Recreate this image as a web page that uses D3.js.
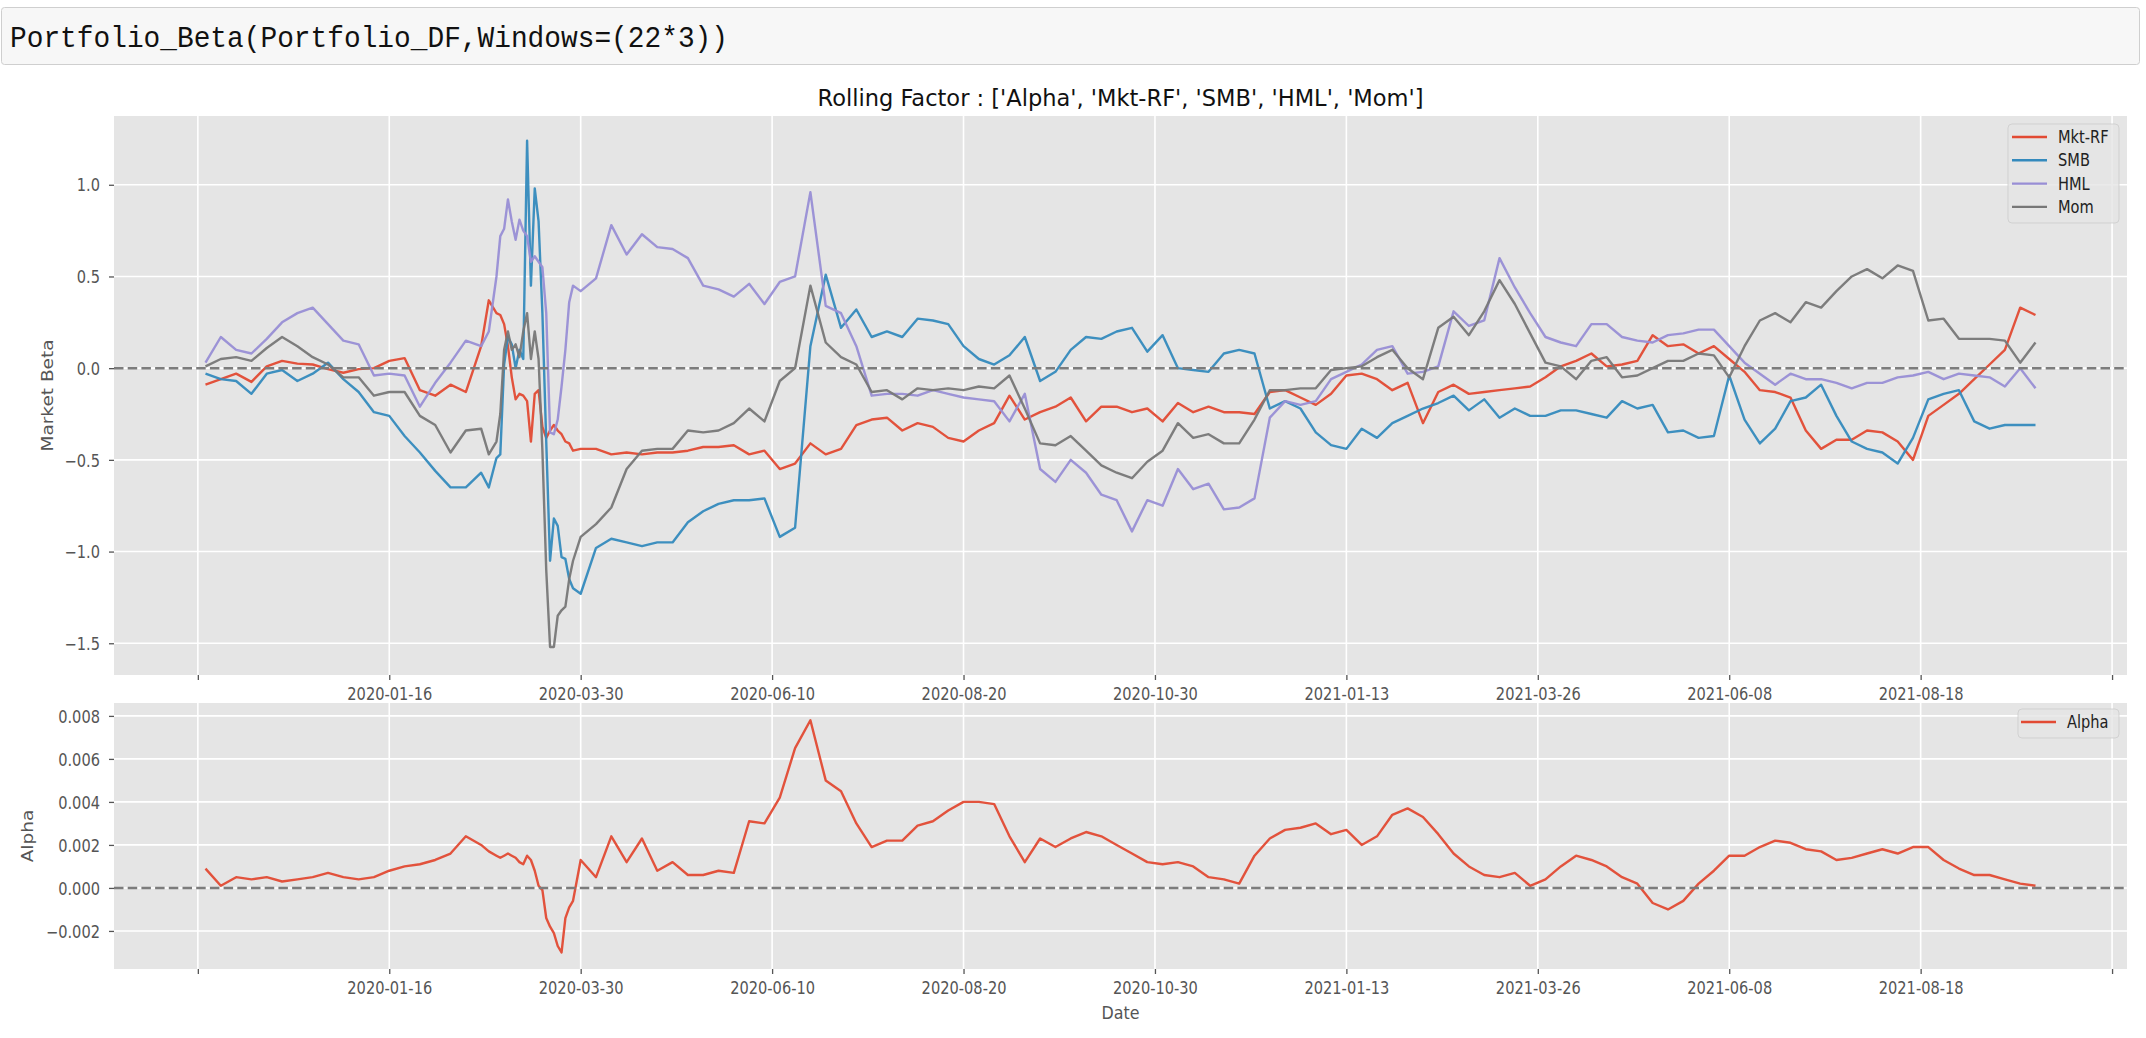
<!DOCTYPE html>
<html><head><meta charset="utf-8">
<script src="https://cdn.jsdelivr.net/npm/d3@7"></script>
<style>
html,body{margin:0;padding:0;background:#fff;}
svg{display:block;}
</style></head><body>
<svg id="chart" width="2146" height="1038"></svg>
<script>
// ---- data (x = trading-day index) ----
const dayIndex = [2,6,10,14,18,22,26,30,34,38,42,46,50,54,58,62,66,70,74,76,
  78,79,80,81,82,83,84,85,86,87,88,89,90,91,92,93,94,95,96,97,98,
  100,104,108,112,116,120,124,128,132,136,140,144,148,152,156,160,164,
  168,172,176,180,184,188,192,196,200,204,208,212,216,220,224,228,232,236,240,244,248,252,256,260,264,268,272,276,280,284,288,292,296,300,304,308,312,316,320,324,
  328,332,336,340,344,348,352,356,360,364,368,372,376,380,384,388,392,396,400,404,408,412,416,420,424,428,432,436,440,444,448,452,456,460,464,468,472,476,480];

const mktRF = [-0.09,-0.06,-0.03,-0.075,0.01,0.04,0.025,0.02,-0.005,-0.025,-0.005,0.0,0.04,0.055,-0.12,-0.15,-0.09,-0.13,0.12,0.37,
  0.30,0.29,0.24,0.12,-0.05,-0.17,-0.14,-0.15,-0.18,-0.40,-0.14,-0.12,-0.32,-0.38,-0.34,-0.31,-0.34,-0.36,-0.40,-0.41,-0.45,
  -0.44,-0.44,-0.47,-0.46,-0.47,-0.46,-0.46,-0.45,-0.43,-0.43,-0.42,-0.47,-0.45,-0.55,-0.52,-0.41,-0.47,
  -0.44,-0.31,-0.28,-0.27,-0.34,-0.30,-0.32,-0.38,-0.40,-0.34,-0.30,-0.15,-0.28,-0.24,-0.21,-0.16,-0.29,-0.21,-0.21,-0.24,-0.22,-0.29,-0.19,-0.24,-0.21,-0.24,-0.24,-0.25,-0.13,-0.12,-0.16,-0.20,-0.14,-0.04,-0.03,-0.06,-0.12,-0.08,-0.30,-0.13,
  -0.09,-0.14,-0.13,-0.12,-0.11,-0.10,-0.05,0.01,0.04,0.08,0.01,0.02,0.04,0.18,0.12,0.13,0.08,0.12,0.05,-0.02,-0.12,-0.13,-0.16,-0.34,-0.44,-0.39,-0.39,-0.34,-0.35,-0.40,-0.50,-0.26,-0.20,-0.14,-0.06,0.02,0.10,0.33,0.29];

const smb = [-0.03,-0.06,-0.07,-0.14,-0.03,-0.01,-0.07,-0.03,0.03,-0.06,-0.13,-0.24,-0.26,-0.37,-0.46,-0.56,-0.65,-0.65,-0.57,-0.65,
  -0.49,-0.47,0.02,0.17,0.13,0.0,0.10,0.05,1.24,0.45,0.98,0.80,0.30,-0.40,-1.05,-0.82,-0.86,-1.03,-1.04,-1.15,-1.20,
  -1.23,-0.98,-0.93,-0.95,-0.97,-0.95,-0.95,-0.84,-0.78,-0.74,-0.72,-0.72,-0.71,-0.92,-0.87,0.12,0.51,
  0.22,0.32,0.17,0.20,0.17,0.27,0.26,0.24,0.12,0.05,0.02,0.07,0.17,-0.07,-0.02,0.10,0.17,0.16,0.20,0.22,0.09,0.18,0.0,-0.01,-0.02,0.08,0.10,0.08,-0.22,-0.18,-0.22,-0.35,-0.42,-0.44,-0.33,-0.38,-0.30,-0.26,-0.22,-0.19,
  -0.15,-0.23,-0.17,-0.27,-0.22,-0.26,-0.26,-0.23,-0.23,-0.25,-0.27,-0.18,-0.22,-0.20,-0.35,-0.34,-0.38,-0.37,-0.04,-0.28,-0.41,-0.33,-0.18,-0.16,-0.09,-0.26,-0.40,-0.44,-0.46,-0.52,-0.38,-0.17,-0.14,-0.12,-0.29,-0.33,-0.31,-0.31,-0.31];

const hml = [0.03,0.17,0.10,0.08,0.16,0.25,0.30,0.33,0.24,0.15,0.13,-0.04,-0.03,-0.04,-0.21,-0.08,0.03,0.15,0.12,0.20,
  0.50,0.72,0.76,0.92,0.80,0.70,0.81,0.75,0.72,0.58,0.61,0.58,0.55,0.30,-0.35,-0.36,-0.28,-0.10,0.10,0.36,0.45,
  0.42,0.49,0.78,0.62,0.73,0.66,0.65,0.60,0.45,0.43,0.39,0.46,0.35,0.47,0.50,0.96,0.34,
  0.30,0.12,-0.15,-0.14,-0.14,-0.15,-0.12,-0.14,-0.16,-0.17,-0.18,-0.29,-0.14,-0.55,-0.62,-0.50,-0.57,-0.69,-0.72,-0.89,-0.72,-0.75,-0.55,-0.66,-0.63,-0.77,-0.76,-0.71,-0.27,-0.18,-0.20,-0.18,-0.06,-0.02,0.02,0.10,0.12,-0.03,-0.02,0.01,
  0.31,0.23,0.26,0.60,0.44,0.30,0.17,0.14,0.12,0.24,0.24,0.17,0.15,0.14,0.18,0.19,0.21,0.21,0.12,0.03,-0.03,-0.09,-0.03,-0.06,-0.06,-0.08,-0.11,-0.08,-0.08,-0.05,-0.04,-0.02,-0.06,-0.03,-0.04,-0.05,-0.10,0.0,-0.11];

const mom = [0.01,0.05,0.06,0.04,0.11,0.17,0.12,0.06,0.02,-0.05,-0.05,-0.15,-0.13,-0.13,-0.26,-0.31,-0.46,-0.34,-0.33,-0.47,
  -0.40,-0.25,0.10,0.20,0.10,0.13,0.06,0.20,0.30,0.05,0.20,0.05,-0.45,-1.10,-1.52,-1.52,-1.35,-1.32,-1.30,-1.15,-1.05,
  -0.92,-0.85,-0.76,-0.55,-0.45,-0.44,-0.44,-0.34,-0.35,-0.34,-0.30,-0.22,-0.29,-0.07,0.0,0.45,0.14,
  0.06,0.02,-0.13,-0.12,-0.17,-0.11,-0.12,-0.11,-0.12,-0.10,-0.11,-0.04,-0.22,-0.41,-0.42,-0.37,-0.45,-0.53,-0.57,-0.60,-0.51,-0.45,-0.30,-0.38,-0.36,-0.41,-0.41,-0.28,-0.12,-0.12,-0.11,-0.11,-0.01,0.0,0.01,0.06,0.10,0.0,-0.06,0.22,
  0.28,0.18,0.31,0.48,0.35,0.19,0.03,0.01,-0.06,0.04,0.06,-0.05,-0.04,0.0,0.04,0.04,0.08,0.07,-0.05,0.12,0.26,0.30,0.25,0.36,0.33,0.42,0.50,0.54,0.49,0.56,0.53,0.26,0.27,0.16,0.16,0.16,0.15,0.03,0.14];

const alpha = [0.0009,0.0001,0.0005,0.0004,0.0005,0.0003,0.0004,0.0005,0.0007,0.0005,0.0004,0.0005,0.0008,0.0010,0.0011,0.0013,0.0016,0.0024,0.0020,0.0017,
  0.0015,0.0014,0.0015,0.0016,0.0015,0.0014,0.0012,0.0011,0.0015,0.0013,0.0008,0.0001,-0.0001,-0.0014,-0.0018,-0.0021,-0.0027,-0.0030,-0.0014,-0.0009,-0.0006,
  0.0013,0.0005,0.0024,0.0012,0.0023,0.0008,0.0012,0.0006,0.0006,0.0008,0.0007,0.0031,0.0030,0.0042,0.0065,0.0078,0.0050,
  0.0045,0.0030,0.0019,0.0022,0.0022,0.0029,0.0031,0.0036,0.0040,0.0040,0.0039,0.0024,0.0012,0.0023,0.0019,0.0023,0.0026,0.0024,0.0020,0.0016,0.0012,0.0011,0.0012,0.0010,0.0005,0.0004,0.0002,0.0015,0.0023,0.0027,0.0028,0.0030,0.0025,0.0027,0.0020,0.0024,0.0034,0.0037,0.0033,0.0025,
  0.0016,0.0010,0.0006,0.0005,0.0007,0.0001,0.0004,0.0010,0.0015,0.0013,0.0010,0.0005,0.0002,-0.0007,-0.0010,-0.0006,0.0002,0.0008,0.0015,0.0015,0.0019,0.0022,0.0021,0.0018,0.0017,0.0013,0.0014,0.0016,0.0018,0.0016,0.0019,0.0019,0.0013,0.0009,0.0006,0.0006,0.0004,0.0002,0.0001];

const seriesNames = ["Mkt-RF","SMB","HML","Mom"];
const xTickPositions = [0,50,100,150,200,250,300,350,400,450,500];
const xTickLabels = ["","2020-01-16","2020-03-30","2020-06-10","2020-08-20","2020-10-30","2021-01-13","2021-03-26","2021-06-08","2021-08-18",""];
const betaTicks = [-1.5,-1.0,-0.5,0.0,0.5,1.0];
const alphaTicks = [-0.002,0.0,0.002,0.004,0.006,0.008];
const titleText = "Rolling Factor : ['Alpha', 'Mkt-RF', 'SMB', 'HML', 'Mom']";
const codeText = "Portfolio_Beta(Portfolio_DF,Windows=(22*3))";

// ---- layout / style ----
const colors = ["#E24A33","#348ABD","#988ED5","#777777"];
const SX = 0.86;            // horizontal text squeeze seen in the picture
const FONT = "'DejaVu Sans', 'Liberation Sans', sans-serif";
const TICKFS = 17;
const svg = d3.select("#chart");

const left = 114, right = 2127;
const top1 = 116, bot1 = 675, top2 = 703, bot2 = 969;

// code cell
svg.append("rect").attr("x",1.5).attr("y",7.5).attr("width",2138).attr("height",57).attr("rx",3)
  .attr("fill","#f7f7f7").attr("stroke","#cfcfcf").attr("stroke-width",1);
svg.append("text").attr("x",10).attr("y",47)
  .attr("font-family","'Liberation Mono', 'DejaVu Sans Mono', monospace").attr("font-size",29)
  .attr("textLength",718).attr("lengthAdjust","spacingAndGlyphs").attr("fill","#111").text(codeText);

const xExt = d3.extent(dayIndex);
const xPad = (xExt[1]-xExt[0])*0.05;
const x = d3.scaleLinear().domain([xExt[0]-xPad, xExt[1]+xPad]).range([left,right]);
const y1 = d3.scaleLinear().domain([-1.673,1.375]).range([bot1,top1]);
const y2 = d3.scaleLinear().domain([-0.00377,0.0086]).range([bot2,top2]);

function panel(y, yTicks, yFmt, yTop, yBot, series, legendNames, legendBox, yLabel, yLabelX){
  const g = svg.append("g");
  g.append("rect").attr("x",left).attr("y",yTop).attr("width",right-left).attr("height",yBot-yTop).attr("fill","#E5E5E5");
  // grid
  g.append("g").selectAll("line").data(xTickPositions).join("line")
    .attr("x1",d=>x(d)).attr("x2",d=>x(d)).attr("y1",yTop).attr("y2",yBot)
    .attr("stroke","#fff").attr("stroke-width",1.6);
  g.append("g").selectAll("line").data(yTicks).join("line")
    .attr("x1",left).attr("x2",right).attr("y1",d=>y(d)).attr("y2",d=>y(d))
    .attr("stroke","#fff").attr("stroke-width",1.6);
  // series
  series.forEach(s=>{
    const pts = dayIndex.map((d,i)=>[d,s.values[i]]);
    g.append("path").datum(pts)
      .attr("d", d3.line().x(d=>x(d[0])).y(d=>y(d[1])))
      .attr("fill","none").attr("stroke",s.color).attr("stroke-width",2.4)
      .attr("stroke-linejoin","round").attr("stroke-opacity",0.95);
  });
  // zero line
  g.append("line").attr("x1",left).attr("x2",right).attr("y1",y(0)).attr("y2",y(0))
    .attr("stroke","#7c7c7c").attr("stroke-width",2.5).attr("stroke-dasharray","9.5,4.2");
  // x axis
  const xa = g.append("g").attr("transform",`translate(0,${yBot})`)
    .call(d3.axisBottom(x).tickValues(xTickPositions).tickFormat((d,i)=>xTickLabels[i]).tickSize(5));
  xa.select(".domain").remove();
  xa.selectAll(".tick line").attr("stroke","#555").attr("stroke-width",1.3);
  xa.selectAll(".tick text").attr("y",25).attr("dy",null).attr("fill","#555")
    .attr("font-family",FONT).attr("font-size",TICKFS).attr("transform",`scale(${SX},1)`);
  // y axis
  const ya = g.append("g").attr("transform",`translate(${left},0)`)
    .call(d3.axisLeft(y).tickValues(yTicks).tickFormat(yFmt).tickSize(5));
  ya.select(".domain").remove();
  ya.selectAll(".tick line").attr("stroke","#555").attr("stroke-width",1.3);
  ya.selectAll(".tick text").attr("x",-14/SX).attr("dy","0.36em").attr("fill","#555")
    .attr("font-family",FONT).attr("font-size",TICKFS).attr("transform",`scale(${SX},1)`);
  // y label
  g.append("text").attr("transform",`translate(${yLabelX},${(yTop+yBot)/2}) rotate(-90) scale(1,${SX})`)
    .attr("text-anchor","middle").attr("dy","0.36em").attr("fill","#555")
    .attr("font-family",FONT).attr("font-size",18.5).text(yLabel);
  // legend
  const lg = g.append("g");
  lg.append("rect").attr("x",legendBox.x).attr("y",legendBox.y).attr("width",legendBox.w).attr("height",legendBox.h)
    .attr("rx",4).attr("fill","#E5E5E5").attr("fill-opacity",0.8).attr("stroke","#cccccc").attr("stroke-opacity",0.8);
  legendNames.forEach((n,i)=>{
    const ly = legendBox.y + 13 + i*23.3;
    lg.append("line").attr("x1",legendBox.x+legendBox.lineStart).attr("x2",legendBox.x+legendBox.lineStart+35)
      .attr("y1",ly).attr("y2",ly).attr("stroke",series[i].color).attr("stroke-width",2.4);
    lg.append("text").attr("transform",`translate(${legendBox.x+legendBox.lineStart+46},${ly}) scale(${SX},1)`)
      .attr("dy","0.36em").attr("fill","#222").attr("font-family",FONT).attr("font-size",TICKFS).text(n);
  });
}

panel(y1, betaTicks, d3.format(".1f"), top1, bot1,
  [{values:mktRF,color:colors[0]},{values:smb,color:colors[1]},{values:hml,color:colors[2]},{values:mom,color:colors[3]}],
  seriesNames, {x:2008,y:124,w:111,h:99,lineStart:4}, "Market Beta", 47);

panel(y2, alphaTicks, d3.format(".3f"), top2, bot2,
  [{values:alpha,color:colors[0]}],
  ["Alpha"], {x:2018,y:709,w:101,h:29,lineStart:3}, "Alpha", 27);

// title
svg.append("text").attr("x",(left+right)/2).attr("y",106).attr("text-anchor","middle")
  .attr("font-family",FONT).attr("font-size",23).attr("fill","#111")
  .attr("textLength",606).attr("lengthAdjust","spacingAndGlyphs").text(titleText);

// x label
svg.append("text").attr("transform",`translate(${(left+right)/2},1019) scale(${SX},1)`)
  .attr("text-anchor","middle").attr("fill","#555").attr("font-family",FONT).attr("font-size",18.5).text("Date");
</script>
</body></html>
